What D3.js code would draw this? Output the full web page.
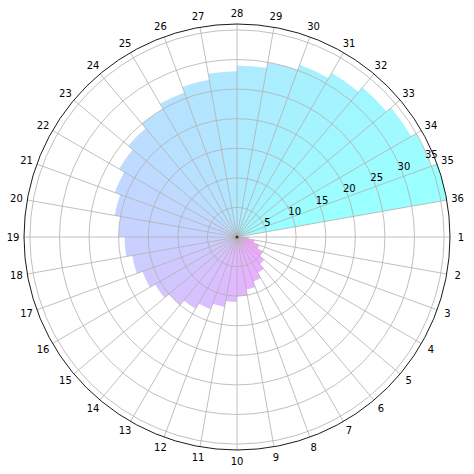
<!DOCTYPE html>
<html>
<head>
<meta charset="utf-8">
<script src="https://cdn.jsdelivr.net/npm/d3@7"></script>
<style>
html,body{margin:0;padding:0;background:#fff;}
svg{display:block;}
text{font-family:"DejaVu Sans",sans-serif;}
</style>
</head>
<body>
<script>
const categories = ["1","2","3","4","5","6","7","8","9","10","11","12","13","14","15","16","17","18","19","20","21","22","23","24","25","26","27","28","29","30","31","32","33","34","35","36"];
const values = [1,2,3,4,5,6,7,8,9,10,11,12,13,14,15,16,17,18,19,20,21,22,23,24,25,26,27,28,29,30,31,32,33,34,35,36];
const radialTicks = [5,10,15,20,25,30,35];
const rMax = 36;

const W = 474, H = 474, cx = 237, cy = 237, R = 213;
const svg = d3.select("body").append("svg").attr("width", W).attr("height", H);
const g = svg.append("g").attr("transform", `translate(${cx},${cy})`);

const step = 2 * Math.PI / categories.length;
const x = d3.scaleBand().domain(categories).range([Math.PI / 2 - step, Math.PI / 2 - step + 2 * Math.PI]).padding(0);
const r = d3.scaleLinear().domain([0, rMax]).range([0, R]);
const cool = t => `rgb(${Math.round(255 * t)},${Math.round(255 * (1 - t))},255)`;
const colorT = d3.scaleLinear().domain([0, rMax]).range([1, 0]);

const arc = d3.arc().innerRadius(0)
  .outerRadius(d => r(d.v))
  .startAngle(d => x(d.c))
  .endAngle(d => x(d.c) + x.bandwidth());

const data = categories.map((c, i) => ({c, v: values[i]}));

g.append("g").selectAll("path").data(data).join("path")
  .attr("d", arc)
  .attr("fill", d => cool(colorT(d.v)))
  .attr("fill-opacity", 0.4);

const pos = (a, rr) => [rr * Math.sin(a), -rr * Math.cos(a)];

// radial grid circles
g.append("g").selectAll("circle").data(radialTicks).join("circle")
  .attr("r", d => r(d)).attr("fill", "none")
  .attr("stroke", "#b0b0b0").attr("stroke-width", 0.8);

// spokes
const tickAngle = c => x(c) + x.bandwidth();
g.append("g").selectAll("line").data(categories).join("line")
  .attr("x1", 0).attr("y1", 0)
  .attr("x2", c => pos(tickAngle(c), R)[0])
  .attr("y2", c => pos(tickAngle(c), R)[1])
  .attr("stroke", "#b0b0b0").attr("stroke-width", 0.8);

// outer spine
g.append("circle").attr("r", R).attr("fill", "none").attr("stroke", "#000").attr("stroke-width", 0.9);

// angular labels
g.append("g").selectAll("text").data(categories).join("text")
  .attr("x", c => pos(tickAngle(c), 224)[0])
  .attr("y", c => pos(tickAngle(c), 224)[1])
  .attr("text-anchor", "middle").attr("dominant-baseline", "central")
  .attr("font-size", 10).attr("fill", "#000")
  .text(c => c);

// radial labels at 22.5 deg above east
const rlA = Math.PI / 2 - 22.5 * Math.PI / 180;
g.append("g").selectAll("text").data(radialTicks).join("text")
  .attr("x", d => pos(rlA, r(d))[0] + 3)
  .attr("y", d => pos(rlA, r(d))[1] - 3)
  .attr("text-anchor", "middle").attr("dominant-baseline", "central")
  .attr("font-size", 10).attr("fill", "#000")
  .text(d => d);

// center dot
g.append("circle").attr("r", 1.5).attr("fill", "#333");
</script>
</body>
</html>
